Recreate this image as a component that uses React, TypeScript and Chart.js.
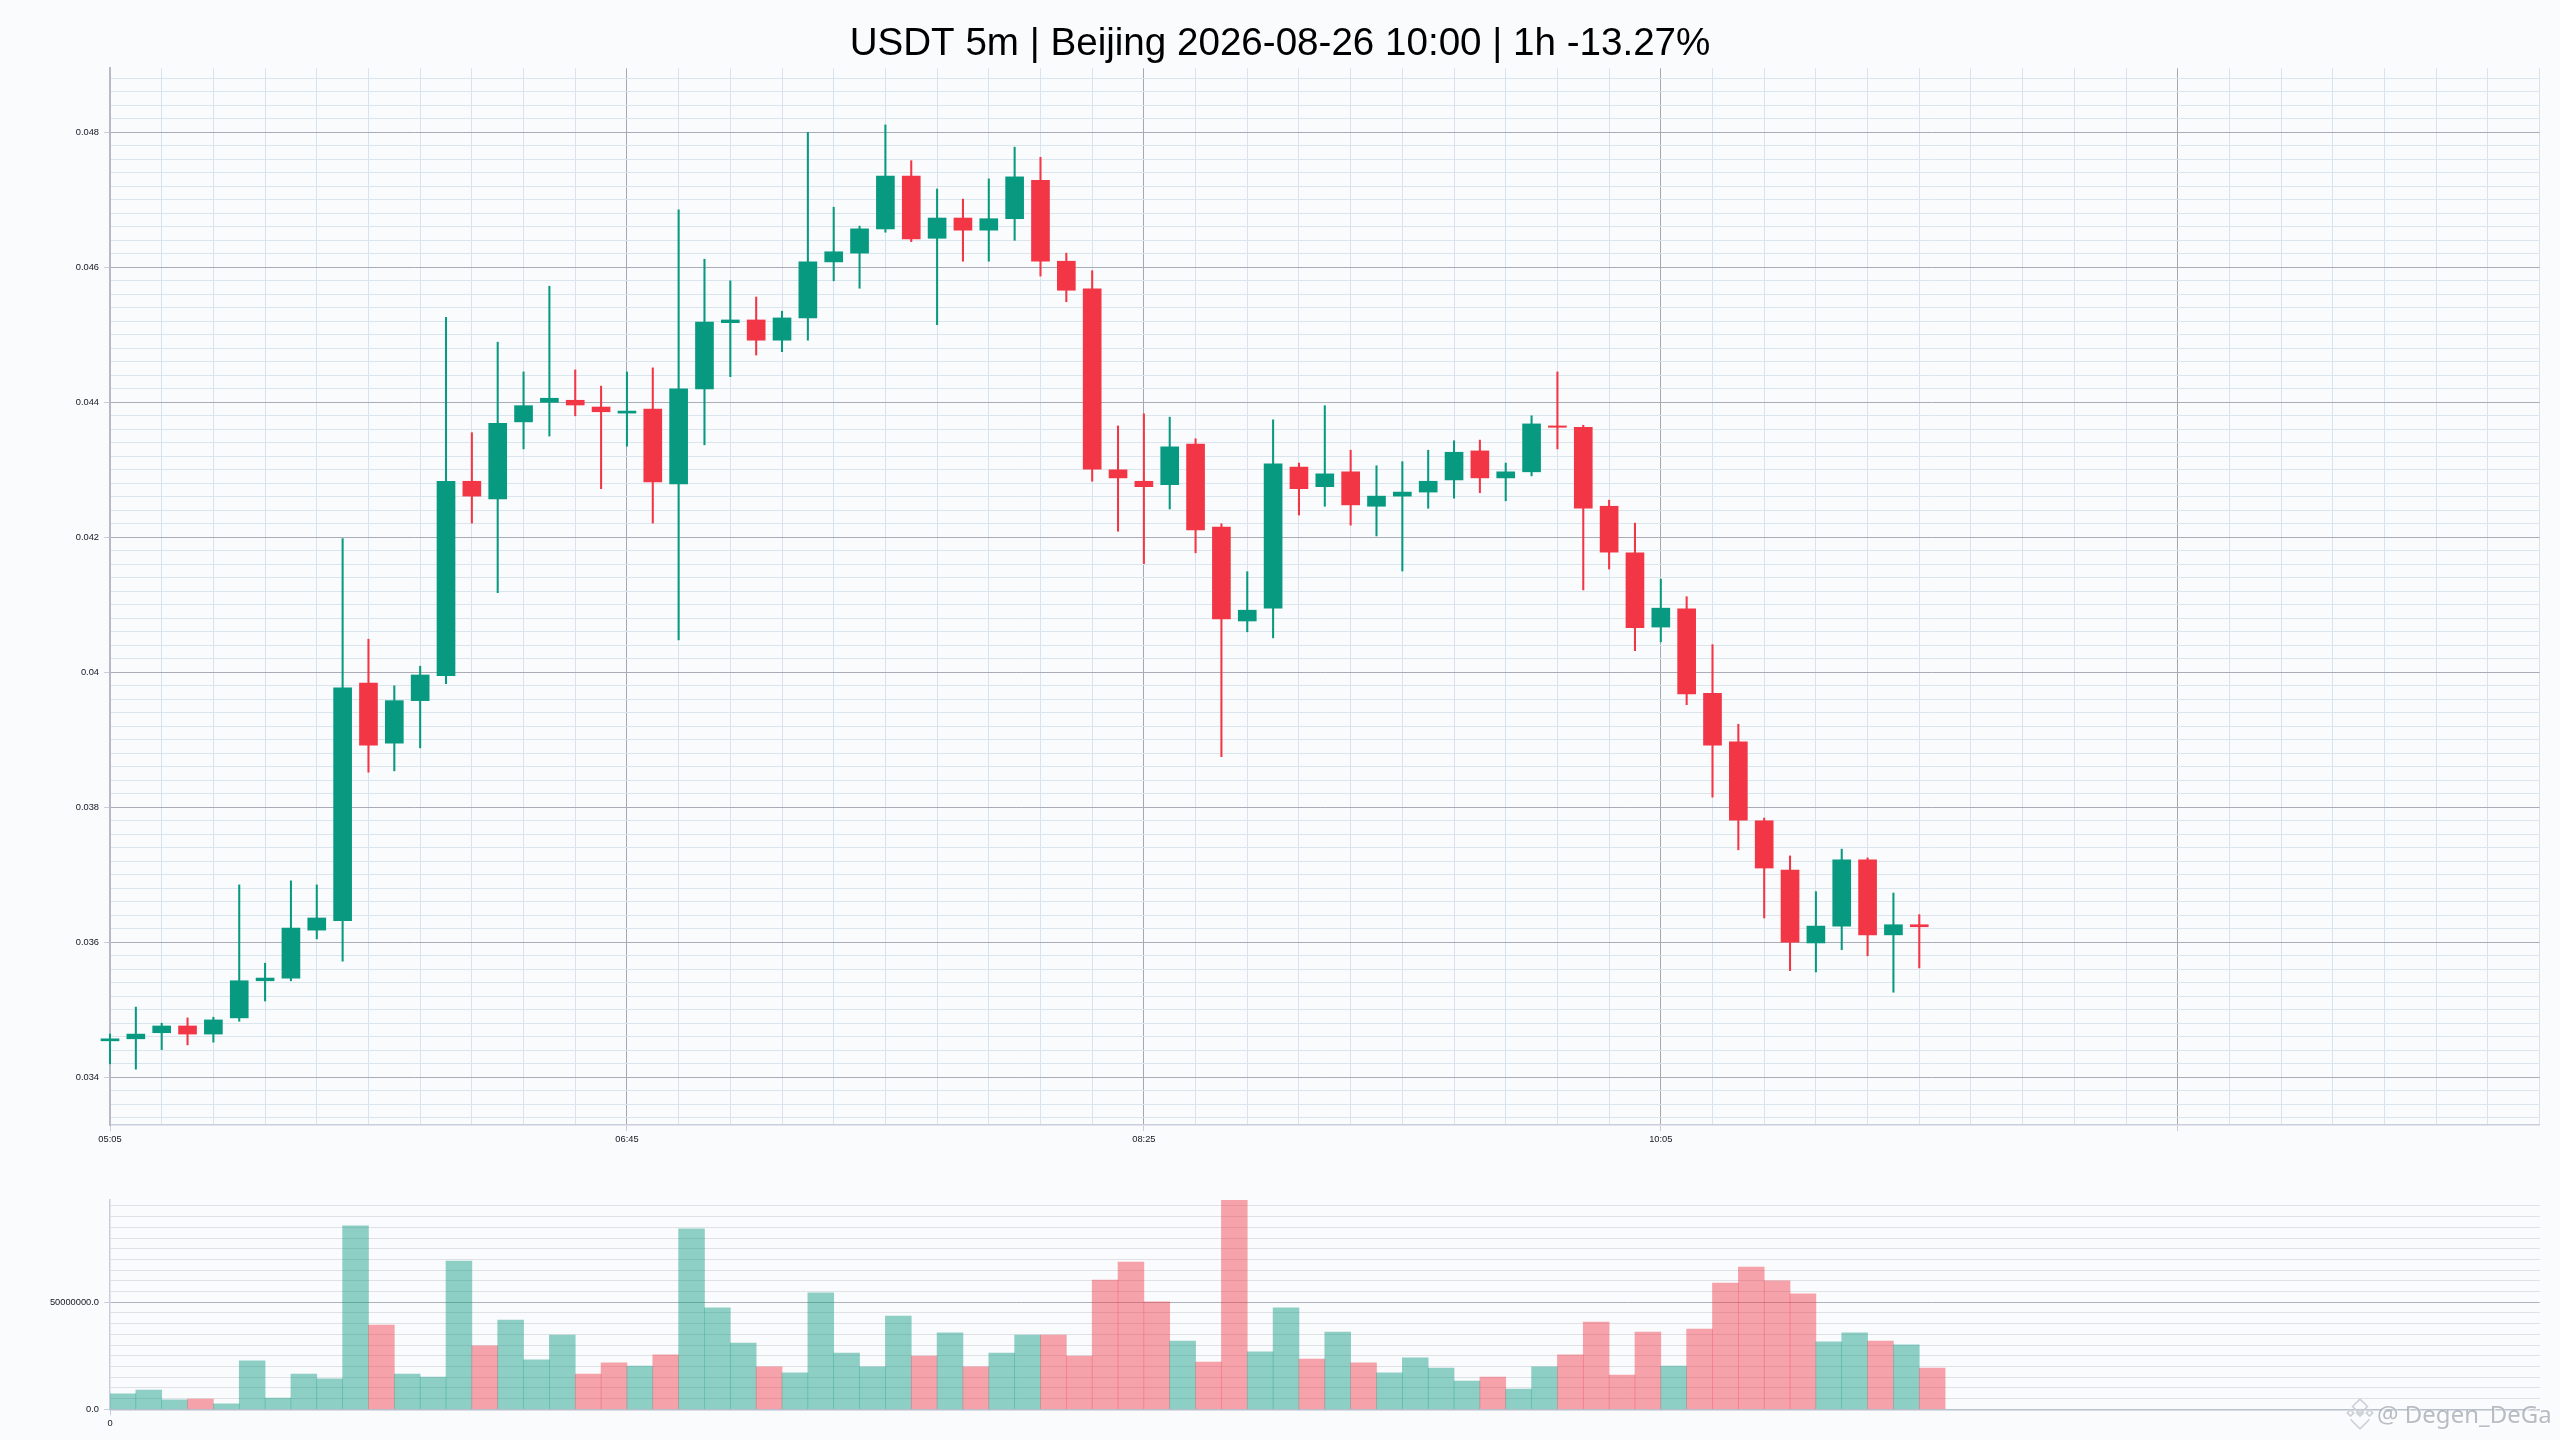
import React, { useEffect, useRef } from "react";
import { Chart, registerables } from "chart.js";

Chart.register(...registerables);

const title = "USDT 5m | Beijing 2026-08-26 10:00 | 1h -13.27%";
const watermark = "@ Degen_DeGa";

const opens = [0.03454,0.03457,0.03466,0.03476,0.03464,0.03488,0.03543,0.03547,0.03618,0.03632,0.03984,0.03895,0.03958,0.03995,0.04283,0.04257,0.04371,0.04400,0.04403,0.04393,0.04384,0.04390,0.04279,0.04420,0.04518,0.04522,0.04492,0.04525,0.04608,0.04621,0.04657,0.04735,0.04643,0.04673,0.04655,0.04672,0.04729,0.04609,0.04568,0.04300,0.04283,0.04278,0.04338,0.04215,0.04076,0.04095,0.04304,0.04275,0.04297,0.04246,0.04261,0.04267,0.04285,0.04328,0.04288,0.04297,0.04365,0.04363,0.04246,0.04177,0.04067,0.04094,0.03969,0.03897,0.03780,0.03707,0.03599,0.03624,0.03722,0.03611,0.03626];
const closes = [0.03457,0.03464,0.03476,0.03464,0.03485,0.03543,0.03547,0.03621,0.03636,0.03977,0.03892,0.03958,0.03996,0.04283,0.04261,0.04369,0.04395,0.04406,0.04396,0.04386,0.04387,0.04282,0.04420,0.04519,0.04522,0.04492,0.04525,0.04608,0.04623,0.04657,0.04735,0.04642,0.04673,0.04655,0.04672,0.04734,0.04609,0.04566,0.04301,0.04288,0.04275,0.04334,0.04211,0.04079,0.04092,0.04309,0.04272,0.04294,0.04248,0.04261,0.04267,0.04283,0.04326,0.04288,0.04297,0.04368,0.04363,0.04243,0.04178,0.04066,0.04095,0.03968,0.03892,0.03781,0.03710,0.03600,0.03624,0.03722,0.03611,0.03626,0.03623];
const highs = [0.03464,0.03504,0.03480,0.03488,0.03489,0.03685,0.03569,0.03691,0.03685,0.04198,0.04049,0.03980,0.04009,0.04526,0.04355,0.04489,0.04445,0.04572,0.04448,0.04424,0.04445,0.04451,0.04685,0.04612,0.04580,0.04556,0.04535,0.04800,0.04689,0.04661,0.04811,0.04758,0.04716,0.04701,0.04731,0.04778,0.04763,0.04621,0.04595,0.04365,0.04383,0.04378,0.04346,0.04220,0.04149,0.04374,0.04310,0.04395,0.04329,0.04306,0.04312,0.04329,0.04343,0.04344,0.04310,0.04380,0.04445,0.04366,0.04255,0.04221,0.04138,0.04112,0.04041,0.03923,0.03784,0.03728,0.03675,0.03738,0.03725,0.03673,0.03641];
const lows = [0.03420,0.03412,0.03441,0.03448,0.03452,0.03483,0.03513,0.03543,0.03605,0.03572,0.03852,0.03854,0.03888,0.03983,0.04221,0.04118,0.04331,0.04350,0.04380,0.04272,0.04335,0.04221,0.04048,0.04337,0.04438,0.04470,0.04475,0.04492,0.04580,0.04569,0.04652,0.04638,0.04515,0.04609,0.04609,0.04640,0.04587,0.04549,0.04283,0.04209,0.04161,0.04242,0.04177,0.03875,0.04060,0.04051,0.04233,0.04246,0.04218,0.04202,0.04150,0.04243,0.04258,0.04266,0.04254,0.04291,0.04331,0.04122,0.04153,0.04032,0.04045,0.03952,0.03815,0.03737,0.03636,0.03558,0.03556,0.03589,0.03580,0.03526,0.03562];
const volumes = [7.2e6,9.0e6,4.4e6,4.8e6,2.5e6,22.6e6,5.3e6,16.5e6,14.2e6,85.7e6,39.4e6,16.5e6,15.1e6,69.3e6,29.6e6,41.7e6,23.1e6,34.7e6,16.5e6,21.7e6,20.2e6,25.4e6,84.3e6,47.4e6,31.0e6,19.8e6,17.0e6,54.4e6,26.3e6,19.8e6,43.6e6,24.9e6,35.7e6,19.8e6,26.3e6,34.7e6,34.7e6,24.9e6,60.4e6,68.8e6,50.2e6,31.9e6,22.1e6,97.8e6,26.8e6,47.4e6,23.5e6,36.1e6,21.7e6,17.0e6,24.0e6,19.3e6,13.2e6,15.1e6,9.5e6,19.8e6,25.4e6,40.8e6,16.0e6,36.1e6,20.2e6,37.5e6,59.0e6,66.5e6,60.0e6,53.9e6,31.5e6,35.7e6,31.9e6,30.1e6,19.3e6];

const timeTickValues = [0, 20, 40, 60, 80];
const timeTickLabels = ["05:05", "06:45", "08:25", "10:05", ""];
const minorTimeTickValues = [2,4,6,8,10,12,14,16,18,22,24,26,28,30,32,34,36,38,42,44,46,48,50,52,54,56,58,62,64,66,68,70,72,74,76,78,82,84,86,88,90,92,94];
const priceMajorTicks = [0.034,0.036,0.038,0.04,0.042,0.044,0.046,0.048];
const priceMinorStep = 0.0002;
const volumeMajorTicks = [0, 50000000];
const volumeMinorStep = 5000000;

const BG = "#fafbfd";
const GREEN = "#089981";
const RED = "#f23645";
const GREEN_A = "rgba(8,153,129,0.45)";
const RED_A = "rgba(242,54,69,0.45)";
const FONT = "'Liberation Sans', Arial, sans-serif";
const TICK_COLOR = "#131722";

const isUp = (i: number) => closes[i] >= opens[i];
const near = (a: number, b: number, eps: number) => Math.abs(a - b) < eps;

function MainChart() {
  const ref = useRef<HTMLCanvasElement>(null);
  useEffect(() => {
    const idx = opens.map((_, i) => i);
    const pMin = 0.033293, pMax = 0.048948;
    const isMajorP = (v: number) => priceMajorTicks.some((m) => near(m, v, 1e-7));
    const isMajorT = (v: number) => timeTickValues.includes(v);
    const chart = new Chart(ref.current as HTMLCanvasElement, {
      type: "bar",
      data: {
        datasets: [
          {
            label: "wick",
            data: idx.map((i) => ({ x: i, y: [lows[i], highs[i]] })),
            backgroundColor: idx.map((i) => (isUp(i) ? GREEN : RED)),
            barThickness: 1.4,
            grouped: false,
            order: 2,
            clip: false,
          },
          {
            label: "body",
            data: idx.map((i) => ({ x: i, y: [opens[i], closes[i]] })),
            backgroundColor: idx.map((i) => (isUp(i) ? GREEN : RED)),
            barThickness: 18,
            grouped: false,
            order: 1,
            clip: false,
          },
        ] as any,
      },
      options: {
        responsive: false,
        animation: false,
        devicePixelRatio: 1,
        layout: { padding: { left: 20.4, right: 20.4, top: 0, bottom: 0 } },
        plugins: {
          legend: { display: false },
          tooltip: { enabled: false },
          title: {
            display: true,
            text: title,
            color: "#000000",
            font: { family: FONT, size: 38.6, weight: "normal" },
            padding: { top: 20.8, bottom: 1.2 },
          },
        },
        scales: {
          x: {
            type: "linear",
            min: 0,
            max: 94,
            offset: false,
            bounds: "data",
            afterBuildTicks: (s: any) => {
              s.ticks = [...timeTickValues, ...minorTimeTickValues]
                .sort((a, b) => a - b)
                .map((value) => ({ value }));
            },
            afterFit: (s: any) => { s.height = 55; },
            grid: {
              offset: false,
              color: (c: any) => (isMajorT(c.tick.value) ? "#a3a7b2" : "#d9e3ed"),
              lineWidth: 1,
              tickColor: (c: any) => (isMajorT(c.tick.value) ? "#c8cedb" : "rgba(0,0,0,0)"),
              tickLength: 6,
            },
            border: { display: true, color: "#c8cedb", width: 1.5 },
            ticks: {
              autoSkip: false,
              maxRotation: 0,
              minRotation: 0,
              padding: 3,
              color: TICK_COLOR,
              font: { family: FONT, size: 9.3 },
              callback: (v: any) => {
                const k = timeTickValues.indexOf(Number(v));
                return k >= 0 ? timeTickLabels[k] : "";
              },
            },
          },
          y: {
            type: "linear",
            min: pMin,
            max: pMax,
            bounds: "data",
            afterBuildTicks: (s: any) => {
              const out: any[] = [];
              const start = Math.ceil(pMin / priceMinorStep);
              const end = Math.floor(pMax / priceMinorStep);
              for (let i = start; i <= end; i++) out.push({ value: i * priceMinorStep });
              s.ticks = out;
            },
            afterFit: (s: any) => { s.width = 89.6; },
            grid: {
              color: (c: any) => (isMajorP(c.tick.value) ? "#a9adb8" : "#dbe5ee"),
              lineWidth: 1,
              tickColor: (c: any) => (isMajorP(c.tick.value) ? "#c8cedb" : "rgba(0,0,0,0)"),
              tickLength: 6,
            },
            border: { display: true, color: "#b5bac6", width: 2 },
            ticks: {
              autoSkip: false,
              padding: 5,
              color: TICK_COLOR,
              font: { family: FONT, size: 9.3 },
              callback: (v: any) => {
                const m = priceMajorTicks.find((p) => near(p, Number(v), 1e-7));
                return m !== undefined ? String(m) : "";
              },
            },
          },
        },
      } as any,
    });
    return () => chart.destroy();
  }, []);
  return <canvas ref={ref} width={2560} height={1180} style={{ position: "absolute", left: 0, top: 0, width: 2560, height: 1180 }} />;
}

function VolumeChart() {
  const ref = useRef<HTMLCanvasElement>(null);
  useEffect(() => {
    const vMax = 97800000;
    const isMajorV = (v: number) => volumeMajorTicks.includes(v);
    const chart = new Chart(ref.current as HTMLCanvasElement, {
      type: "bar",
      data: {
        datasets: [
          {
            label: "volume",
            data: volumes.map((v, i) => ({ x: i + 0.5, y: v })),
            backgroundColor: volumes.map((_, i) => (isUp(i) ? GREEN_A : RED_A)),
            barPercentage: 1,
            categoryPercentage: 1,
            borderWidth: 0,
          },
        ] as any,
      },
      options: {
        responsive: false,
        animation: false,
        devicePixelRatio: 1,
        layout: { padding: { left: 0, right: 20.4, top: 20, bottom: 0 } },
        plugins: { legend: { display: false }, tooltip: { enabled: false }, title: { display: false } },
        scales: {
          x: {
            type: "linear",
            min: 0,
            max: 94,
            offset: false,
            bounds: "data",
            afterBuildTicks: (s: any) => { s.ticks = [{ value: 0 }]; },
            afterFit: (s: any) => { s.height = 30.7; },
            grid: {
              offset: false,
              drawOnChartArea: false,
              tickColor: "#c8cedb",
              tickLength: 6,
            },
            border: { display: true, color: "#b9c0ce", width: 1.5 },
            ticks: {
              autoSkip: false,
              maxRotation: 0,
              padding: 3,
              color: TICK_COLOR,
              font: { family: FONT, size: 9.3 },
              callback: () => "0",
            },
          },
          y: {
            type: "linear",
            min: 0,
            max: vMax,
            bounds: "data",
            afterBuildTicks: (s: any) => {
              const out: any[] = [];
              for (let v = 0; v <= vMax; v += volumeMinorStep) out.push({ value: v });
              s.ticks = out;
            },
            afterFit: (s: any) => { s.width = 110; },
            grid: {
              color: (c: any) => (isMajorV(c.tick.value) ? "#b0b2b9" : "#dfe1e6"),
              lineWidth: 1,
              tickColor: (c: any) => (isMajorV(c.tick.value) ? "#c8cedb" : "rgba(0,0,0,0)"),
              tickLength: 6,
            },
            border: { display: true, color: "#c8cedb", width: 1.5 },
            ticks: {
              autoSkip: false,
              padding: 5,
              color: TICK_COLOR,
              font: { family: FONT, size: 9.3 },
              callback: (v: any) => (isMajorV(Number(v)) ? Number(v).toFixed(1) : ""),
            },
          },
        },
      } as any,
    });
    return () => chart.destroy();
  }, []);
  return <canvas ref={ref} width={2560} height={260} style={{ position: "absolute", left: 0, top: 1180, width: 2560, height: 260 }} />;
}

export default function App() {
  return (
    <div style={{ position: "absolute", left: 0, top: 0, width: 2560, height: 1440, background: BG, overflow: "hidden" }}>
      <MainChart />
      <VolumeChart />
      <svg width="30" height="34" viewBox="0 0 28 32" style={{ position: "absolute", left: 2345, top: 1398 }}>
        <g fill="none" stroke="#cdd2d8" strokeWidth="1.6">
          <path d="M14 1 L21 8 L14 15 L7 8 Z" />
          <path d="M5 11 L8 14 L5 17 L2 14 Z" />
          <path d="M23 11 L26 14 L23 17 L20 14 Z" />
          <path d="M14 11 L17 14 L14 17 L11 14 Z" />
          <path d="M5 20 L14 29 L23 20" />
        </g>
      </svg>
      <div
        style={{
          position: "absolute",
          left: 2377,
          top: 1399,
          fontFamily: "'Noto Sans', sans-serif",
          fontSize: 24,
          lineHeight: "30px",
          color: "rgba(165,172,180,0.8)",
          textShadow: "1px 1px 0 rgba(255,255,255,0.9)",
          whiteSpace: "nowrap",
        }}
      >
        {watermark}
      </div>
    </div>
  );
}
